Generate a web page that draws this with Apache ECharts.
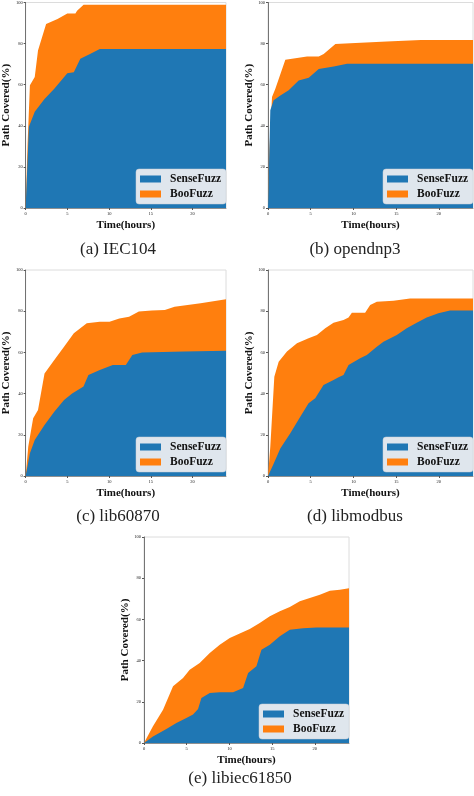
<!DOCTYPE html>
<html>
<head>
<meta charset="utf-8">
<script src="https://cdn.jsdelivr.net/npm/echarts@6/dist/echarts.min.js"></script>
<style>
  html, body { margin: 0; padding: 0; background: #fff; }
  #main { width: 474px; height: 796px; }
</style>
</head>
<body>
<div id="main"></div>
<script>
// (a) IEC104
var iecSenseT = [0, 0.39, 1.09, 2.26, 3.43, 4.99, 5.77, 6.55, 7.71, 8.88, 24];
var iecSenseV = [0, 39.5, 46.8, 53, 58, 65.6, 66, 72.6, 75, 77.4, 77.4];
var iecBooT = [0, 0.23, 0.51, 1.09, 1.48, 2.45, 3.82, 4.99, 5.96, 6.16, 6.94, 24];
var iecBooV = [0, 31, 59.7, 63.7, 76.6, 89.5, 92, 94.7, 94.7, 96, 98.9, 98.9];

// (b) opendnp3
var dnpSenseT = [0, 0.27, 0.66, 1.45, 2.42, 3.59, 4.77, 5.94, 7.7, 9.26, 24];
var dnpSenseV = [0, 47.6, 52.4, 54.8, 57.3, 62, 63.4, 67.7, 68.9, 70.2, 70.2];
var dnpBooT = [0, 0.16, 0.47, 0.86, 2.03, 4.57, 5.94, 6.52, 7.89, 9.65, 13.9, 17.9, 24];
var dnpBooV = [0, 28, 54, 58, 72.1, 73.7, 73.7, 75, 79.8, 80.2, 81, 81.8, 81.8];

// (c) lib60870
var l608SenseT = [0, 0.51, 1.09, 2.26, 3.43, 4.6, 5.57, 6.93, 7.52, 8.88, 10.44, 12.0, 12.78, 13.95, 19.0, 24];
var l608SenseV = [0, 11, 17.5, 24.8, 31.2, 36.9, 40.1, 43.4, 49, 51.5, 53.9, 53.9, 58.7, 59.9, 60.4, 60.8];
var l608BooT = [0, 0.31, 0.9, 1.48, 2.26, 3.43, 4.6, 5.77, 7.32, 8.88, 10.05, 11.22, 12.39, 13.56, 15.11, 16.67, 17.84, 20.96, 24];
var l608BooV = [0, 14.2, 28, 32, 49.8, 56.3, 62.8, 69.3, 74.1, 74.9, 74.9, 76.5, 77.3, 79.8, 80.3, 80.6, 82.2, 83.8, 85.8];

// (d) libmodbus
var modSenseT = [0, 0.66, 1.44, 2.61, 3.78, 4.75, 5.53, 6.5, 7.67, 8.26, 8.84, 9.43, 10.79, 11.57, 12.74, 13.52, 15.08, 16.24, 17.41, 18.58, 19.95, 21.31, 24];
var modSenseV = [0, 6, 13.4, 20.7, 28.8, 35.3, 37.7, 44.2, 46.6, 47.9, 49, 53.9, 57.1, 58.7, 62.8, 65.2, 68.4, 71.7, 74.4, 77, 79, 80.3, 80.3];
var modBooT = [0, 0.27, 0.74, 1.25, 2.22, 3.39, 4.75, 5.73, 6.7, 7.67, 8.84, 9.43, 9.82, 11.37, 11.96, 12.74, 14.69, 16.63, 24];
var modBooV = [0, 14.2, 48.2, 55.5, 60.4, 64.4, 66.9, 68.4, 71.7, 74.4, 75.7, 77, 79.3, 79.3, 83, 84.6, 85.1, 86.2, 86.2];

// (e) libiec61850
var l618SenseT = [0, 1.05, 2.62, 3.79, 4.96, 5.74, 6.33, 6.72, 7.7, 8.87, 10.43, 11.6, 12.19, 13.16, 13.75, 14.73, 15.9, 17.07, 18.63, 20.2, 24];
var l618SenseV = [0, 3.2, 6.8, 9.7, 12.1, 13.8, 16.5, 21.8, 24.3, 24.6, 24.6, 26.7, 34, 37.2, 45.3, 47.7, 51.8, 55, 55.7, 56.1, 56.1];
var l618BooT = [0, 1.05, 2.23, 3.4, 4.57, 5.35, 6.52, 7.7, 8.87, 10.04, 11.21, 12.38, 13.55, 14.73, 15.9, 17.07, 18.24, 19.41, 20.59, 21.76, 22.93, 24];
var l618BooV = [0, 8.1, 16.2, 27.5, 31.6, 35.6, 38.8, 43.7, 47.7, 51, 53.1, 55.3, 58.3, 61.5, 63.9, 66, 68.8, 70.4, 72, 73.9, 74.4, 75.1];

var xTicks = [0, 5, 10, 15, 20];
var seriesNames = ['SenseFuzz', 'BooFuzz'];

var panels = [
  { cap: '(a) IEC104', sT: iecSenseT, sV: iecSenseV, bT: iecBooT, bV: iecBooV, left: 21, top: 2, capX: 118, capY: 250 },
  { cap: '(b) opendnp3', sT: dnpSenseT, sV: dnpSenseV, bT: dnpBooT, bV: dnpBooV, left: 268, top: 2, capX: 355, capY: 250 },
  { cap: '(c) lib60870', sT: l608SenseT, sV: l608SenseV, bT: l608BooT, bV: l608BooV, left: 21, top: 270, capX: 118, capY: 517 },
  { cap: '(d) libmodbus', sT: modSenseT, sV: modSenseV, bT: modBooT, bV: modBooV, left: 268, top: 270, capX: 355, capY: 517 },
  { cap: '(e) libiec61850', sT: l618SenseT, sV: l618SenseV, bT: l618BooT, bV: l618BooV, left: 144, top: 537, capX: 240, capY: 779 }
];

var W = 205, H = 206;
var BLUE = '#1f77b4', ORANGE = '#ff7f0e';
var SERIF = '"Liberation Serif", "DejaVu Serif", serif';

function pairs(t, v) {
  return t.map(function (x, i) { return [x, v[i]]; });
}

var grid = [], xAxis = [], yAxis = [], series = [], legend = [], graphic = [];

panels.forEach(function (p, i) {
  grid.push({
    left: p.left, top: p.top, width: W, height: H,
    show: true, backgroundColor: '#fff', borderColor: '#dcdcdc', borderWidth: 1
  });
  xAxis.push({
    gridIndex: i, type: 'value', min: 0, max: 24,
    name: 'Time(hours)', nameLocation: 'middle', nameGap: 12,
    nameTextStyle: { fontFamily: SERIF, fontWeight: 'bold', fontSize: 11, color: '#111' },
    axisLine: { show: true, lineStyle: { color: '#777', width: 0.8 } },
    axisTick: { show: true, length: 2, customValues: xTicks, lineStyle: { color: '#555' } },
    axisLabel: { fontSize: 4.5, color: '#222', margin: 3, customValues: xTicks, fontFamily: SERIF },
    splitLine: { show: false }
  });
  yAxis.push({
    gridIndex: i, type: 'value', min: 0, max: 100, interval: 20,
    name: 'Path Covered(%)', nameLocation: 'middle', nameGap: 13, nameRotate: 90,
    nameTextStyle: { fontFamily: SERIF, fontWeight: 'bold', fontSize: 11, color: '#111' },
    axisLine: { show: true, lineStyle: { color: '#555', width: 0.8 } },
    axisTick: { show: true, length: 2, lineStyle: { color: '#555' } },
    axisLabel: { fontSize: 4.5, color: '#222', margin: 3, fontFamily: SERIF },
    splitLine: { show: false }
  });
  // BooFuzz behind, SenseFuzz in front (overlapping areas, not stacked)
  series.push({
    name: 'BooFuzz', type: 'line', xAxisIndex: i, yAxisIndex: i,
    data: pairs(p.bT, p.bV), showSymbol: false, symbol: 'none',
    color: ORANGE, lineStyle: { width: 0 }, areaStyle: { color: ORANGE, opacity: 1 },
    silent: true, z: 2
  });
  series.push({
    name: 'SenseFuzz', type: 'line', xAxisIndex: i, yAxisIndex: i,
    data: pairs(p.sT, p.sV), showSymbol: false, symbol: 'none',
    color: BLUE, lineStyle: { width: 0 }, areaStyle: { color: BLUE, opacity: 1 },
    silent: true, z: 3
  });
  legend.push({
    data: seriesNames, orient: 'vertical',
    left: p.left + 115, top: p.top + 167,
    backgroundColor: '#dfe6ed', borderColor: '#c8cfd6', borderWidth: 0.5, borderRadius: 3,
    padding: [4, 5, 4, 4], itemGap: 3, itemWidth: 21, itemHeight: 7, icon: 'rect',
    textStyle: { fontFamily: SERIF, fontWeight: 'bold', fontSize: 11.5, color: '#111', padding: [0, 0, 0, 4] },
    selectedMode: false, z: 10
  });
  graphic.push({
    type: 'text', x: p.capX, y: p.capY, silent: true,
    style: {
      text: p.cap, font: '17px ' + SERIF, fill: '#222',
      align: 'center', verticalAlign: 'middle'
    }
  });
});

var chart = echarts.init(document.getElementById('main'), null, { renderer: 'canvas' });
chart.setOption({
  animation: false,
  backgroundColor: '#fff',
  grid: grid,
  xAxis: xAxis,
  yAxis: yAxis,
  legend: legend,
  series: series,
  graphic: graphic
});
</script>
</body>
</html>
